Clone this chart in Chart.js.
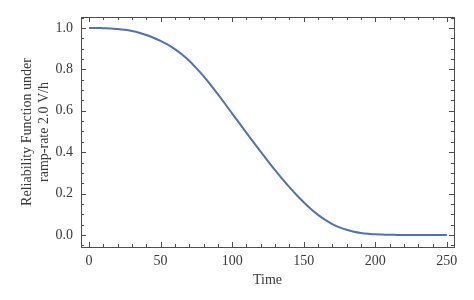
<!DOCTYPE html>
<html>
<head>
<meta charset="utf-8">
<script src="https://cdn.jsdelivr.net/npm/chart.js@4"></script>
<style>
  html, body { margin: 0; padding: 0; background: #fff; }
  #wrap { width: 474px; height: 300px; }
</style>
</head>
<body>
<div id="wrap"><canvas id="chart" width="474" height="300"></canvas></div>
<script>
// values
const times = [0, 5, 10, 15, 20, 25, 30, 35, 40, 45, 50, 55, 60, 65, 70, 75, 80, 85,
  90, 95, 100, 105, 110, 115, 120, 125, 130, 135, 140, 145, 150, 155, 160, 165,
  170, 175, 180, 185, 190, 195, 200, 205, 210, 215, 220, 230, 240, 250];
const reliability = [1.0, 1.0, 0.999, 0.998, 0.995, 0.991, 0.985, 0.977, 0.966,
  0.953, 0.938, 0.920, 0.898, 0.872, 0.842, 0.806, 0.767, 0.725, 0.680, 0.634,
  0.587, 0.540, 0.493, 0.447, 0.402, 0.357, 0.313, 0.271, 0.231, 0.193, 0.158,
  0.125, 0.097, 0.073, 0.053, 0.037, 0.025, 0.016, 0.010, 0.006, 0.003, 0.002,
  0.001, 0.0005, 0, 0, 0, 0];

const xTicks = [0, 50, 100, 150, 200, 250];
const yTicks = [0.0, 0.2, 0.4, 0.6, 0.8, 1.0];
const xMinor = [-10, 10, 20, 30, 40, 60, 70, 80, 90, 110, 120, 130, 140, 160, 170, 180, 190, 210, 220, 230, 240, 260];
const yMinor = [-0.05, 0.05, 0.1, 0.15, 0.25, 0.3, 0.35, 0.45, 0.5, 0.55, 0.65, 0.7, 0.75, 0.85, 0.9, 0.95, 1.05];

const textColor = "#3a3a3a";
const frameColor = "#4d4d4d";
const serif = "'Liberation Serif', 'DejaVu Serif', serif";

// frame with inward ticks on all four sides
const framePlugin = {
  id: "frame",
  afterDraw(chart) {
    const { ctx, chartArea: a, scales } = chart;
    ctx.save();
    ctx.strokeStyle = frameColor;
    ctx.lineWidth = 1;
    ctx.strokeRect(a.left + 0.5, a.top + 0.5, a.right - a.left, a.bottom - a.top);

    const tickX = (v, len) => {
      const px = Math.round(scales.x.getPixelForValue(v)) + 0.5;
      if (px < a.left || px > a.right) return;
      ctx.beginPath();
      ctx.moveTo(px, a.bottom); ctx.lineTo(px, a.bottom - len);
      ctx.moveTo(px, a.top); ctx.lineTo(px, a.top + len);
      ctx.stroke();
    };
    const tickY = (v, len) => {
      const py = Math.round(scales.y.getPixelForValue(v)) + 0.5;
      if (py < a.top || py > a.bottom) return;
      ctx.beginPath();
      ctx.moveTo(a.left, py); ctx.lineTo(a.left + len, py);
      ctx.moveTo(a.right, py); ctx.lineTo(a.right - len, py);
      ctx.stroke();
    };
    xTicks.forEach(v => tickX(v, 5));
    xMinor.forEach(v => tickX(v, 3));
    yTicks.forEach(v => tickY(v, 5));
    yMinor.forEach(v => tickY(v, 3));
    ctx.restore();
  }
};

new Chart(document.getElementById("chart"), {
  type: "line",
  data: {
    datasets: [{
      data: times.map((t, i) => ({ x: t, y: reliability[i] })),
      borderColor: "#4f72b3",
      borderWidth: 2,
      pointRadius: 0,
      fill: false,
      cubicInterpolationMode: "monotone"
    }]
  },
  options: {
    responsive: false,
    animation: false,
    layout: { padding: { top: 17, right: 20, left: 0, bottom: 0 } },
    plugins: {
      legend: { display: false },
      tooltip: { enabled: false }
    },
    scales: {
      x: {
        type: "linear",
        min: -5.6,
        max: 255,
        afterBuildTicks: s => { s.ticks = xTicks.map(v => ({ value: v })); },
        afterFit: s => { s.height = 53; },
        grid: { display: false, drawTicks: false },
        border: { display: false },
        ticks: {
          color: textColor,
          font: { family: serif, size: 14 },
          padding: 6,
          maxRotation: 0
        },
        title: {
          display: true,
          text: "Time",
          color: textColor,
          font: { family: serif, size: 14 },
          padding: { top: 0, bottom: 11 }
        }
      },
      y: {
        min: -0.058,
        max: 1.053,
        afterBuildTicks: s => { s.ticks = yTicks.map(v => ({ value: v })); },
        afterFit: s => { s.width = 81; },
        grid: { display: false, drawTicks: false },
        border: { display: false },
        ticks: {
          color: textColor,
          font: { family: serif, size: 14 },
          padding: 8,
          callback: v => v.toFixed(1)
        },
        title: {
          display: true,
          text: ["Reliability Function under", "ramp-rate 2.0 V/h"],
          color: textColor,
          font: { family: serif, size: 14, lineHeight: 1.2 },
          padding: { top: 19, bottom: 0 }
        }
      }
    }
  },
  plugins: [framePlugin]
});
</script>
</body>
</html>
